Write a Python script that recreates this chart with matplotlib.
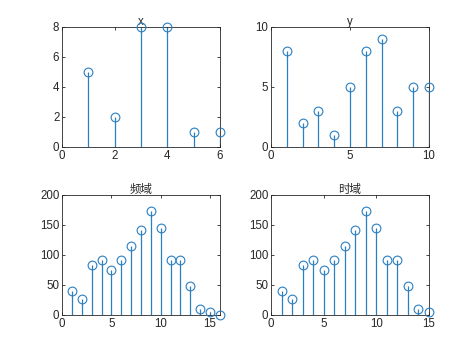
import numpy as np
import matplotlib
matplotlib.use('Agg')
import matplotlib.pyplot as plt

plt.rcParams['font.family'] = ['Liberation Sans', 'Noto Sans CJK SC', 'DejaVu Sans']
plt.rcParams['font.size'] = 8.3

# values
x_vals = [5, 2, 8, 8, 1, 1]
y_vals = [8, 2, 3, 1, 5, 8, 9, 3, 5, 5]
freq_vals = [40, 26, 83, 91, 75, 92, 114, 141, 173, 144, 91, 92, 48, 10, 5, 0]
time_vals = [40, 26, 83, 91, 75, 92, 114, 141, 173, 144, 91, 92, 48, 10, 5]

panels = [
    ('x', x_vals, [0, 6], [0, 8], [0, 2, 4, 6], [0, 2, 4, 6, 8]),
    ('y', y_vals, [0, 10], [0, 10], [0, 5, 10], [0, 5, 10]),
    ('频域', freq_vals, [0, 16], [0, 200], [0, 5, 10, 15], [0, 50, 100, 150, 200]),
    ('时域', time_vals, [0, 15], [0, 200], [0, 5, 10, 15], [0, 50, 100, 150, 200]),
]

positions = [
    [0.131, 0.586, 0.333, 0.338],
    [0.572, 0.586, 0.333, 0.338],
    [0.131, 0.113, 0.333, 0.338],
    [0.572, 0.113, 0.333, 0.338],
]

blue = '#2a7fc0'
edge = '#262626'

fig = plt.figure(figsize=(4.74, 3.55), dpi=100)
for (title, vals, xl, yl, xt, yt), pos in zip(panels, positions):
    ax = fig.add_axes(pos)
    n = np.arange(1, len(vals) + 1)
    markerline, stemlines, baseline = ax.stem(n, vals, linefmt='-', markerfmt='o', basefmt=' ')
    plt.setp(stemlines, color=blue, linewidth=0.9)
    plt.setp(markerline, markerfacecolor='none', markeredgecolor=blue,
             markersize=6.3, markeredgewidth=0.8, clip_on=False, zorder=5)
    ax.set_xlim(xl)
    ax.set_ylim(yl)
    ax.set_xticks(xt)
    ax.set_yticks(yt)
    ax.set_title(title, fontsize=8.3, color=edge, pad=1.5)
    ax.tick_params(direction='in', length=2, width=0.6, top=True, right=True,
                   colors=edge, labelsize=8.3, pad=2)
    for s in ax.spines.values():
        s.set_color(edge)
        s.set_linewidth(0.6)

fig.savefig('out.png', dpi=100)
